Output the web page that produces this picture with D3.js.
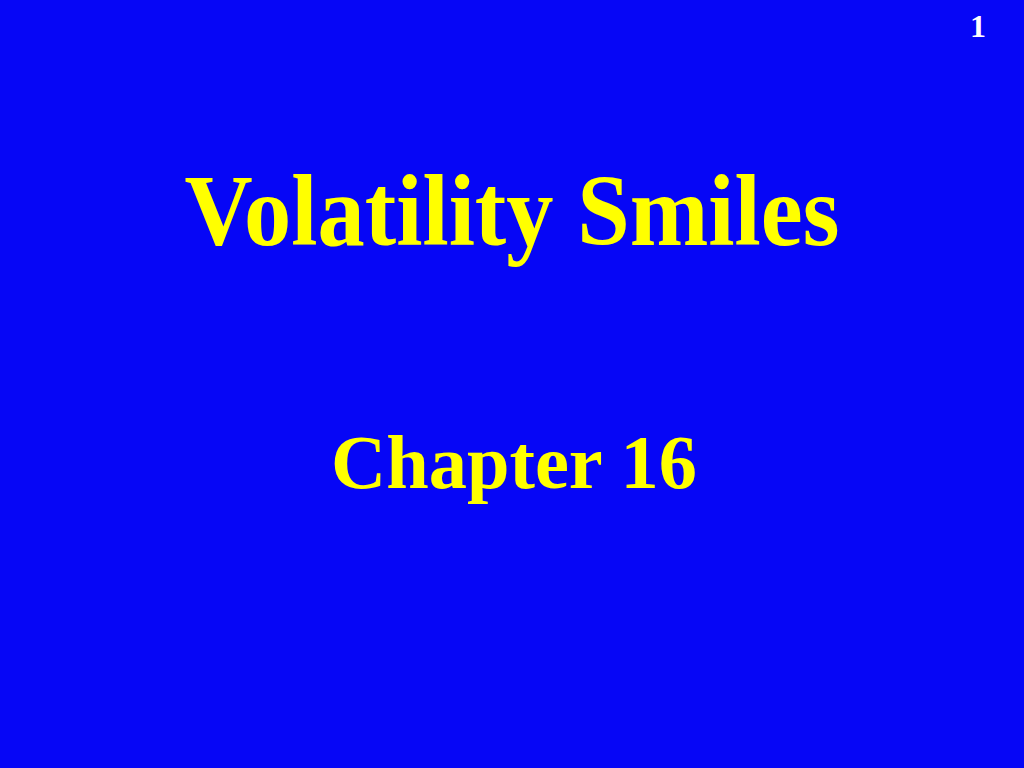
<!DOCTYPE html>
<html><head><meta charset="utf-8">
<script src="https://cdn.jsdelivr.net/npm/d3@7"></script>
<style>html,body{margin:0;padding:0;background:#0606f6;overflow:hidden}</style>
</head><body>
<script>
const slideNumber = ["1"];
const titleLines = ["Volatility Smiles"];
const subtitleLines = ["Chapter 16"];

const W = 1024, H = 768;
const svg = d3.select("body").append("svg").attr("width", W).attr("height", H);
svg.append("rect").attr("width", W).attr("height", H).attr("fill", "#0606f6");

const font = "'Liberation Serif','Times New Roman',serif";

function fitText(sel, targetWidth) {
  sel.each(function() {
    const w = this.getComputedTextLength();
    if (w > 0) {
      const s = targetWidth / w;
      const x = +this.getAttribute("x");
      d3.select(this).attr("transform", `translate(${x},0) scale(${s},1) translate(${-x},0)`);
    }
  });
}

svg.selectAll("text.num").data(slideNumber).join("text")
  .attr("class","num").attr("x", 978).attr("y", 37)
  .attr("text-anchor","middle").attr("font-family", font).attr("font-weight","bold")
  .attr("font-size", 32).attr("fill", "#ffffff").text(d => d);

svg.selectAll("text.title").data(titleLines).join("text")
  .attr("class","title").attr("x", 512).attr("y", 245)
  .attr("text-anchor","middle").attr("font-family", font).attr("font-weight","bold")
  .attr("font-size", 101).attr("fill", "#ffff00").text(d => d)
  .call(fitText, 655);

svg.selectAll("text.sub").data(subtitleLines).join("text")
  .attr("class","sub").attr("x", 514).attr("y", 488)
  .attr("text-anchor","middle").attr("font-family", font).attr("font-weight","bold")
  .attr("font-size", 76).attr("fill", "#ffff00").text(d => d)
  .call(fitText, 366);
</script>
</body></html>
